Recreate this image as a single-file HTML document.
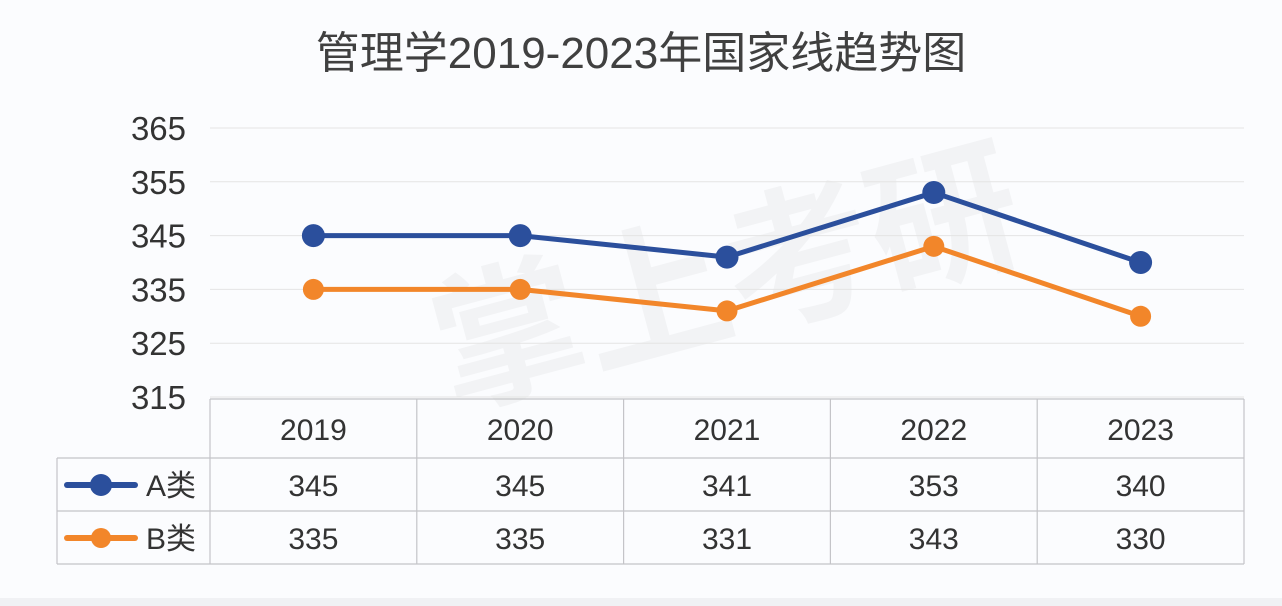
<!DOCTYPE html>
<html><head><meta charset="utf-8"><style>
body{margin:0;background:#fbfcfe;}
svg{display:block;font-family:"Liberation Sans","Noto Sans CJK SC",sans-serif;}
</style></head><body>
<svg id="c" width="1282" height="606" viewBox="0 0 1282 606">
<rect x="0" y="0" width="1282" height="606" fill="#fbfcfe"/>
<rect x="0" y="598" width="1282" height="8" fill="#f0f1f4"/>
<text x="641" y="68" text-anchor="middle" font-size="44" fill="#404040">管理学2019-2023年国家线趋势图</text>
<text x="730" y="330" text-anchor="middle" font-size="150" font-weight="bold" fill="#000" opacity="0.03" transform="rotate(-15 730 290)">掌上考研</text>
<g id="grid"></g><g id="table"></g><g id="series"></g>
</svg>
<script>
const categories=["2019","2020","2021","2022","2023"];
const seriesA=[345,345,341,353,340];
const seriesB=[335,335,331,343,330];
const yTicks=[315,325,335,345,355,365];
const NS="http://www.w3.org/2000/svg";
const x0=210,x1=1244,yTop=128,yBot=397,yMin=315,yMax=365;
const cw=(x1-x0)/categories.length;
function xs(i){return x0+cw*(i+0.5);}
function ys(v){return yBot-(v-yMin)/(yMax-yMin)*(yBot-yTop);}
function mk(t,a,p){const e=document.createElementNS(NS,t);for(const k in a)e.setAttribute(k,a[k]);(p||document.getElementById('c')).appendChild(e);return e;}
const grid=document.getElementById('grid'),tbl=document.getElementById('table'),ser=document.getElementById('series');
yTicks.forEach(v=>{
 const l=mk('line',{x1:x0,x2:x1,y1:ys(v),y2:ys(v),stroke:'#e4e4e4','stroke-width':1},grid);
 
 
 const t=mk('text',{x:186,y:ys(v)+12,'text-anchor':'end','font-size':33,fill:'#333'},grid);
 t.textContent=v;
 
 
});
function L(a,b,c,d){const l=mk('line',{x1:a,y1:b,x2:c,y2:d,stroke:'#c4c4c8','stroke-width':1.2},tbl);
 
 }
L(x0,399,x1,399);L(57,458,x1,458);L(57,511,x1,511);L(57,564,x1,564);
L(57,458,57,564);
for(let i=0;i<=categories.length;i++)L(x0+cw*i,399,x0+cw*i,564);
function T(x,y,s,name,anchor){const t=mk('text',{x:x,y:y,'text-anchor':anchor||'middle','font-size':30,fill:'#333'},tbl);t.textContent=s;
 
 }
categories.forEach((c,i)=>{T(xs(i),440,c,'x-category-label');T(xs(i),496,seriesA[i],'table-value-a');T(xs(i),549,seriesB[i],'table-value-b');});
function legend(y,col,label,r,name){
 const g=mk('g',{},tbl);
 
 
 mk('line',{x1:67,x2:135,y1:y,y2:y,stroke:col,'stroke-width':6,'stroke-linecap':'round'},g);
 mk('circle',{cx:101,cy:y,r:r,fill:col},g);
 const t=mk('text',{x:146,y:y+11,'font-size':30,fill:'#333'},g);t.textContent=label;
}
legend(485,'#2b4f9c','A类',11,'legend-a');
legend(538,'#f2862a','B类',10,'legend-b');
function line(data,col,r,name){
 const pts=data.map((v,i)=>xs(i)+','+ys(v)).join(' ');
 const p=mk('polyline',{points:pts,fill:'none',stroke:col,'stroke-width':5,'stroke-linejoin':'round'},ser);
 
 
 data.forEach((v,i)=>{const c=mk('circle',{cx:xs(i),cy:ys(v),r:r,fill:col},ser);
  
  });
}
line(seriesA,'#2b4f9c',11.5,'series-a');
line(seriesB,'#f2862a',10.5,'series-b');
</script>
</body></html>
